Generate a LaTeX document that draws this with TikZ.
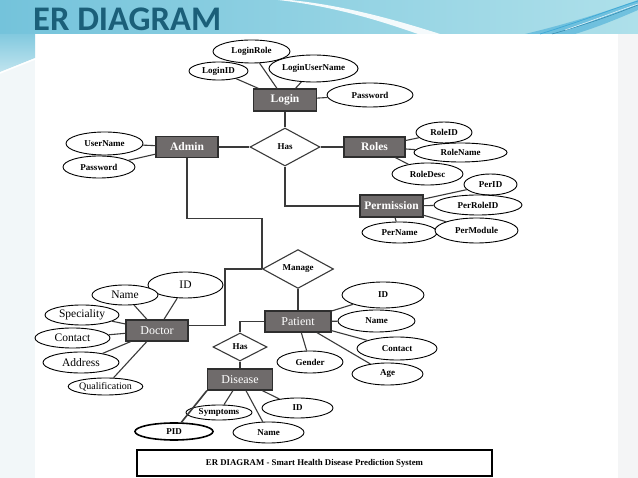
\documentclass[tikz,border=0pt]{standalone}
\usepackage{fontspec}
\setmainfont{Liberation Serif}
\newfontfamily\titlefont{Carlito}
\usetikzlibrary{shapes.geometric,calc}
\definecolor{lnc}{HTML}{3A3A3A}
\definecolor{entf}{HTML}{6F6B6B}
\definecolor{entb}{HTML}{2E2E2E}
\definecolor{bandL}{HTML}{74C3DB}
\definecolor{bandR}{HTML}{AEE0EA}
\definecolor{titlec}{HTML}{1B5F79}
\definecolor{streakc}{HTML}{3FA9D6}
\definecolor{stripL}{HTML}{F2F7F9}
\definecolor{stripR}{HTML}{F4F5F6}
\tikzset{
  ent/.style={rectangle, draw=entb, fill=entf, line width=1.2pt, text=white, inner sep=0pt,
    font=\bfseries\fontsize{11.5}{12}\selectfont},
  entr/.style={ent, font=\fontsize{12}{13}\selectfont},
  attr/.style={ellipse, draw=black, fill=white, line width=0.9pt, inner sep=0pt,
    font=\bfseries\fontsize{9}{10}\selectfont},
  attrr/.style={attr, font=\fontsize{11.5}{12}\selectfont},
  rel/.style={diamond, draw=lnc, fill=white, line width=1.1pt, inner sep=0pt,
    font=\bfseries\fontsize{9}{10}\selectfont},
  conn/.style={draw=lnc, line width=1.1pt},
  sz/.style n args={2}{minimum width=#1pt, minimum height=#2pt}
}
\begin{document}
\begin{tikzpicture}[x=1pt,y=-1pt]
\useasboundingbox (0,0) rectangle (638,478);
% background
\fill[white] (0,0) rectangle (638,478);
\fill[stripL] (0,34) rectangle (35,478);
\fill[stripR] (618,34) rectangle (638,478);
\shade[left color=bandL, right color=bandR] (0,0) rectangle (638,34);
\shade[top color=bandL!90!white, bottom color=bandL!45!white] (0,34) -- (35,34) -- (35,58) -- (0,72) -- cycle;
\draw[white, line width=1.5pt] (0,73) -- (35,59);
\fill[white, opacity=0.9] (290,0) .. controls (340,5) and (390,18) .. (440,34) -- (418,34) .. controls (378,20) and (332,6) .. (278,0) -- cycle;
\fill[streakc, opacity=0.55] (525,34) .. controls (575,22) and (610,10) .. (638,0) -- (638,10) .. controls (615,20) and (595,28) .. (575,34) -- cycle;
\draw[streakc, line width=0.7pt] (540,34) .. controls (585,20) and (615,8) .. (638,1);
\draw[streakc!80!black, line width=0.5pt] (552,34) .. controls (595,22) and (620,12) .. (638,5);
\draw[white, line width=0.6pt, opacity=0.8] (565,30) .. controls (600,18) and (620,10) .. (638,4);
% title
\node[anchor=base west, inner sep=0pt, text=titlec, font=\titlefont\bfseries\fontsize{34.5}{40}\selectfont] (title) at (33,31) {ER DIAGRAM};

% entities
\node[ent, sz={63}{22}] (Login) at (285,100) {Login};
\node[ent, sz={62}{21}] (Admin) at (187,147) {Admin};
\node[ent, sz={61}{20}] (Roles) at (374.5,147) {Roles};
\node[ent, sz={63}{22}] (Permission) at (391.5,206) {Permission};
\node[entr, sz={62}{21}] (Doctor) at (157,330.5) {Doctor};
\node[entr, sz={66}{21}] (Patient) at (298,321.5) {Patient};
\node[entr, sz={65}{21}] (Disease) at (240,379.5) {Disease};

% relationships
\node[rel, sz={70}{38}] (Has1) at (285,147) {Has};
\node[rel, sz={71}{38}] (Manage) at (298,269) {Manage};
\node[rel, sz={54}{28}] (Has2) at (240,347) {Has};

% login attributes
\node[attr, sz={77}{23}] (LoginRole) at (251.5,51.5) {LoginRole};
\node[attr, sz={59}{18}] (LoginID) at (218.5,71) {LoginID};
\node[attr, sz={89}{27}] (LoginUserName) at (313.5,68.5) {LoginUserName};
\node[attr, sz={86}{24}] (LPassword) at (370,95) {Password};
% admin attributes
\node[attr, sz={77}{23}] (UserName) at (104.5,143.5) {UserName};
\node[attr, sz={72}{22}] (APassword) at (99,167) {Password};
% roles attributes
\node[attr, sz={56}{21}] (RoleID) at (444,132.5) {RoleID};
\node[attr, sz={93}{19}] (RoleName) at (460.5,152.5) {RoleName};
\node[attr, sz={71}{22}] (RoleDesc) at (427.5,174) {RoleDesc};
% permission attributes
\node[attr, sz={53}{21}] (PerID) at (490.5,184.5) {PerID};
\node[attr, sz={88}{20}] (PerRoleID) at (478,205) {PerRoleID};
\node[attr, sz={75}{21}] (PerName) at (399.5,232.5) {PerName};
\node[attr, sz={83}{25}] (PerModule) at (476.5,230.5) {PerModule};
% doctor attributes
\node[attrr, sz={75}{26}] (DID) at (185.5,285) {ID};
\node[attrr, sz={66}{20}] (DName) at (125,295) {Name};
\node[attrr, sz={74}{20}] (Speciality) at (82,315) {Speciality};
\node[attrr, sz={75}{20}] (DContact) at (72.5,338) {Contact};
\node[attrr, sz={76}{21}] (Address) at (81,362.5) {Address};
\node[attrr, sz={73}{17}, font=\fontsize{10}{11}\selectfont] (Qualification) at (105.5,386.5) {Qualification};
% patient attributes
\node[attr, sz={82}{26}] (PID2) at (383,295) {ID};
\node[attr, sz={77}{22}] (PName) at (376.5,321) {Name};
\node[attr, sz={80}{23}] (PContact) at (397,348.5) {Contact};
\node[attr, sz={66}{22}] (Gender) at (310,362) {Gender};
\node[attr, sz={71}{22}] (Age) at (387.5,374) {Age};
% disease attributes
\node[attr, sz={66}{15}] (Symptoms) at (219,412.5) {Symptoms};
\node[attr, sz={71}{20}] (DisID) at (297.5,408) {ID};
\node[attr, sz={78}{17}, line width=1.6pt] (PID) at (174,431.5) {PID};
\node[attr, sz={71}{21}] (DisName) at (268.5,432.5) {Name};

% caption
\node[draw=black, line width=1.4pt, minimum width=355pt, minimum height=26pt, inner sep=0pt,
  font=\bfseries\fontsize{8.8}{10}\selectfont] (cap) at (314.5,463) {ER DIAGRAM - Smart Health Disease Prediction System};

% connectors
\draw[conn] (LoginRole) -- (Login);
\draw[conn] (LoginID) -- (Login);
\draw[conn] (LoginUserName) -- (Login);
\draw[conn] (LPassword) -- (Login);
\draw[conn] (Login) -- (Has1);
\draw[conn] (Admin) -- (Has1);
\draw[conn] (Has1) -- (Roles);
\draw[conn] (UserName) -- (Admin);
\draw[conn] (APassword) -- (Admin);
\draw[conn] (RoleID) -- (Roles);
\draw[conn] (RoleName) -- (Roles);
\draw[conn] (RoleDesc) -- (Roles);
\draw[conn] (Has1.south) |- (Permission.west);
\draw[conn] (PerID) -- (Permission);
\draw[conn] (PerRoleID) -- (Permission);
\draw[conn] (PerName) -- (Permission);
\draw[conn] (PerModule) -- (Permission);
\draw[conn] (Admin.south) -- ++(0,60) -| (Manage.west);
\draw[conn] (Manage.west) -- ++(-37,0) |- ([yshift=5pt]Doctor.east);
\draw[conn] (DID) -- (Doctor);
\draw[conn] (DName) -- (Doctor);
\draw[conn] (Speciality) -- (Doctor);
\draw[conn] (DContact) -- (Doctor);
\draw[conn] (Address) -- (Doctor);
\draw[conn] (Qualification) -- (Doctor);
\draw[conn] (Manage) -- (Patient);
\draw[conn] (PID2) -- (Patient);
\draw[conn] (PName) -- (Patient);
\draw[conn] (PContact) -- (Patient);
\draw[conn] (Gender) -- (Patient);
\draw[conn] (Age) -- (Patient);
\draw[conn] (Patient.west) -| (Has2.north);
\draw[conn] (Has2) -- (Disease);
\draw[conn, line width=1.6pt] (Disease.south west) -- (PID);
\draw[conn] (Symptoms) -- (Disease);
\draw[conn] (DisID) -- (Disease);
\draw[conn] (DisName) -- (Disease);
\end{tikzpicture}
\end{document}
